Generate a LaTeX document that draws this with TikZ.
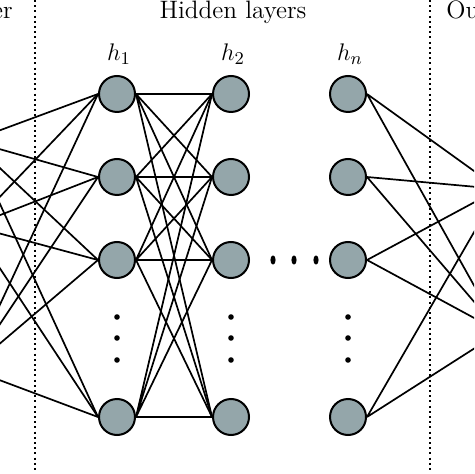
\documentclass[tikz,border=0pt]{standalone}
\definecolor{nodegray}{RGB}{148,166,170}
\tikzset{
  neuron/.style={circle, draw, line width=1pt, fill=nodegray, minimum size=18pt, inner sep=0pt},
  layertext/.style={font=\fontsize{12.6}{15}\selectfont, inner sep=0pt},
  divider/.style={line width=0.9pt, dash pattern=on 1pt off 1.6pt},
  link/.style={line width=0.85pt}
}
\begin{document}
\begin{tikzpicture}[x=0.5pt, y=-0.5pt]
\useasboundingbox (0,0) rectangle (474,474);
\clip (0,0) rectangle (474,474);
% layer titles
\node[layertext, anchor=base east] (tinput) at (13,19) {Input layer};
\node[layertext, anchor=base] (thidden) at (233,19) {Hidden layers};
\node[layertext, anchor=base west] (toutput) at (446,19) {Output layer};
\draw[divider] (35,0) -- (35,472);
\draw[divider] (430,0) -- (430,472);
% input and output ends (outside the crop)
\coordinate (in1) at (-29,141);
\coordinate (in2) at (-28,226);
\coordinate (in3) at (-30,369);
\coordinate (out1) at (499,189);
\coordinate (out2) at (500,332);
% hidden layer 1
\node[layertext, anchor=base] (lh1) at (119,61) {$h_1$};
\node[neuron] (h11) at (117,94){};
\node[neuron] (h12) at (117,177){};
\node[neuron] (h13) at (117,260){};
\node[neuron] (h14) at (117,417){};
% hidden layer 2
\node[layertext, anchor=base] (lh2) at (233,61) {$h_2$};
\node[neuron] (h21) at (231,94){};
\node[neuron] (h22) at (231,177){};
\node[neuron] (h23) at (231,260){};
\node[neuron] (h24) at (231,417){};
% hidden layer n
\node[layertext, anchor=base] (lhn) at (350,61) {$h_n$};
\node[neuron] (hn1) at (348,94){};
\node[neuron] (hn2) at (348,177){};
\node[neuron] (hn3) at (348,260){};
\node[neuron] (hn4) at (348,417){};
% input to h1
\draw[link] (in1) -- (h11.west) (in1) -- (h12.west) (in1) -- (h13.west) (in1) -- (h14.west);
\draw[link] (in2) -- (h11.west) (in2) -- (h12.west) (in2) -- (h13.west) (in2) -- (h14.west);
\draw[link] (in3) -- (h11.west) (in3) -- (h12.west) (in3) -- (h13.west) (in3) -- (h14.west);
% h1 to h2
\draw[link] (h11.east) -- (h21.west) (h11.east) -- (h22.west) (h11.east) -- (h23.west) (h11.east) -- (h24.west);
\draw[link] (h12.east) -- (h21.west) (h12.east) -- (h22.west) (h12.east) -- (h23.west) (h12.east) -- (h24.west);
\draw[link] (h13.east) -- (h21.west) (h13.east) -- (h22.west) (h13.east) -- (h23.west) (h13.east) -- (h24.west);
\draw[link] (h14.east) -- (h21.west) (h14.east) -- (h22.west) (h14.east) -- (h23.west) (h14.east) -- (h24.west);
% hn to output
\draw[link] (hn1.east) -- (out1) (hn1.east) -- (out2);
\draw[link] (hn2.east) -- (out1) (hn2.east) -- (out2);
\draw[link] (hn3.east) -- (out1) (hn3.east) -- (out2);
\draw[link] (hn4.east) -- (out1) (hn4.east) -- (out2);
% vertical dots
\fill (117,317) circle (1.4pt) (117,338) circle (1.4pt) (117,360) circle (1.4pt);
\fill (231,317) circle (1.4pt) (231,338) circle (1.4pt) (231,360) circle (1.4pt);
\fill (348,317) circle (1.4pt) (348,338) circle (1.4pt) (348,360) circle (1.4pt);
% horizontal dots
\fill (273,260) ellipse (1.3pt and 2.3pt) (294,260) ellipse (1.3pt and 2.3pt) (316,260) ellipse (1.3pt and 2.3pt);
\end{tikzpicture}
\end{document}
